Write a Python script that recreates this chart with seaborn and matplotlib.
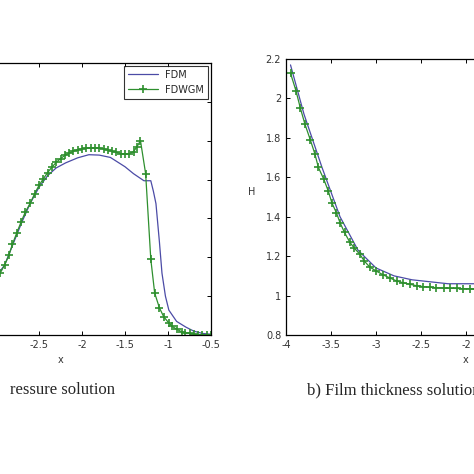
import numpy as np
import pandas as pd
import matplotlib
matplotlib.use("Agg")
import matplotlib.pyplot as plt
import seaborn as sns

# Pressure solution (left)
p_fdm_x = [-3.0, -2.9, -2.8, -2.7, -2.6, -2.5, -2.4, -2.3, -2.19, -2.05, -1.92, -1.8, -1.67, -1.5, -1.4, -1.28, -1.2, -1.17, -1.14, -1.1, -1.07, -1.03, -0.99, -0.9, -0.79, -0.7, -0.6, -0.5]
p_fdm_y = [0.15, 0.18, 0.235, 0.29, 0.34, 0.38, 0.41, 0.43, 0.443, 0.456, 0.464, 0.463, 0.457, 0.433, 0.415, 0.397, 0.397, 0.37, 0.338, 0.24, 0.159, 0.1, 0.064, 0.035, 0.02, 0.01, 0.004, 0.002]
p_fdwgm_x = [-3.0, -2.95, -2.9, -2.85, -2.81, -2.76, -2.71, -2.66, -2.6, -2.55, -2.5, -2.45, -2.4, -2.35, -2.3, -2.25, -2.2, -2.15, -2.1, -2.05, -2.0, -1.95, -1.9, -1.85, -1.8, -1.75, -1.7, -1.65, -1.6, -1.55, -1.5, -1.45, -1.4, -1.36, -1.32, -1.26, -1.2, -1.155, -1.1, -1.05, -0.99, -0.95, -0.9, -0.84, -0.8, -0.75, -0.7, -0.65, -0.6, -0.55, -0.5]
p_fdwgm_y = [0.15, 0.16, 0.18, 0.205, 0.233, 0.262, 0.29, 0.316, 0.34, 0.364, 0.385, 0.402, 0.418, 0.432, 0.444, 0.454, 0.462, 0.468, 0.473, 0.477, 0.479, 0.481, 0.482, 0.482, 0.481, 0.479, 0.476, 0.473, 0.47, 0.467, 0.466, 0.467, 0.472, 0.485, 0.5, 0.415, 0.195, 0.108, 0.07, 0.047, 0.031, 0.022, 0.015, 0.008, 0.006, 0.004, 0.002, 0.001, 0.0, 0.0, 0.0]

# Film thickness (right)
h_fdm_x = [-3.95, -3.8, -3.6, -3.4, -3.2, -3.0, -2.8, -2.6, -2.4, -2.2, -2.0, -1.5, -1.0, -0.5]
h_fdm_y = [2.17, 1.92, 1.65, 1.40, 1.23, 1.14, 1.10, 1.08, 1.07, 1.06, 1.06, 1.06, 1.06, 1.06]
h_fdwgm_x = [-3.95, -3.89, -3.84, -3.79, -3.73, -3.68, -3.64, -3.58, -3.53, -3.49, -3.44, -3.4, -3.35, -3.29, -3.24, -3.18, -3.13, -3.07, -3.0, -2.92, -2.85, -2.77, -2.7, -2.62, -2.55, -2.48, -2.4, -2.33, -2.25, -2.18, -2.1, -2.03, -1.96, -1.9, -1.85]
h_fdwgm_y = [2.128, 2.04, 1.95, 1.87, 1.79, 1.72, 1.65, 1.59, 1.53, 1.47, 1.42, 1.37, 1.32, 1.27, 1.24, 1.21, 1.175, 1.145, 1.125, 1.105, 1.09, 1.074, 1.065, 1.057, 1.05, 1.046, 1.042, 1.04, 1.038, 1.037, 1.036, 1.035, 1.035, 1.035, 1.035]

sns.set_style("white")
plt.rcParams['font.family'] = ['DejaVu Sans']

blue = "#4b4ba6"
green = "#2e8f2e"
tc = "#333333"

fig = plt.figure(figsize=(4.74, 4.74), dpi=100)
W = 474.0
axL = fig.add_axes([-90 / W, (W - 335) / W, 301 / W, 272 / W])
axR = fig.add_axes([286 / W, (W - 335) / W, 360 / W, 276 / W])

sns.lineplot(x=p_fdm_x, y=p_fdm_y, ax=axL, color=blue, lw=0.9, label="FDM", sort=False)
sns.lineplot(x=p_fdwgm_x, y=p_fdwgm_y, ax=axL, color=green, lw=0.9, marker="+", markersize=6,
             markeredgewidth=1.2, markeredgecolor=green, label="FDWGM", sort=False)
axL.set_xlim(-4, -0.5)
axL.set_ylim(0, 0.7)
axL.set_xticks([-4, -3.5, -3, -2.5, -2, -1.5, -1, -0.5])
axL.set_xticklabels(["-4", "-3.5", "-3", "-2.5", "-2", "-1.5", "-1", "-0.5"])
axL.set_yticks(np.arange(0, 0.71, 0.1))
axL.set_xlabel("x", fontsize=7, color=tc)
leg = axL.legend(loc="upper right", fontsize=7, frameon=True, fancybox=False,
                 edgecolor="black", borderaxespad=0.3, handlelength=3)
leg.get_frame().set_linewidth(0.8)

sns.lineplot(x=h_fdm_x, y=h_fdm_y, ax=axR, color=blue, lw=0.9, sort=False)
sns.lineplot(x=h_fdwgm_x, y=h_fdwgm_y, ax=axR, color=green, lw=0.9, marker="+", markersize=6,
             markeredgewidth=1.2, markeredgecolor=green, sort=False)
axR.set_xlim(-4, 0)
axR.set_ylim(0.8, 2.2)
axR.set_xticks([-4, -3.5, -3, -2.5, -2, -1.5, -1, -0.5, 0])
axR.set_xticklabels(["-4", "-3.5", "-3", "-2.5", "-2", "-1.5", "-1", "-0.5", "0"])
axR.set_yticks([0.8, 1, 1.2, 1.4, 1.6, 1.8, 2, 2.2])
axR.set_yticklabels(["0.8", "1", "1.2", "1.4", "1.6", "1.8", "2", "2.2"])
axR.set_xlabel("x", fontsize=7, color=tc)
axR.set_ylabel("H", fontsize=7, color=tc, rotation=0, labelpad=10)

for ax in (axL, axR):
    ax.tick_params(direction="in", length=3, width=0.7, labelsize=7, colors="black",
                   labelcolor=tc, top=True, right=True, bottom=True, left=True)
    for s in ax.spines.values():
        s.set_color("black")
        s.set_linewidth(0.9)

fig.text(10 / W, 1 - 390 / W, "ressure solution", fontsize=12, family="Liberation Serif", va="center")
fig.text(307 / W, 1 - 390 / W, "b) Film thickness solution", fontsize=12, family="Liberation Serif", va="center")

fig.savefig("out.png", dpi=100)
